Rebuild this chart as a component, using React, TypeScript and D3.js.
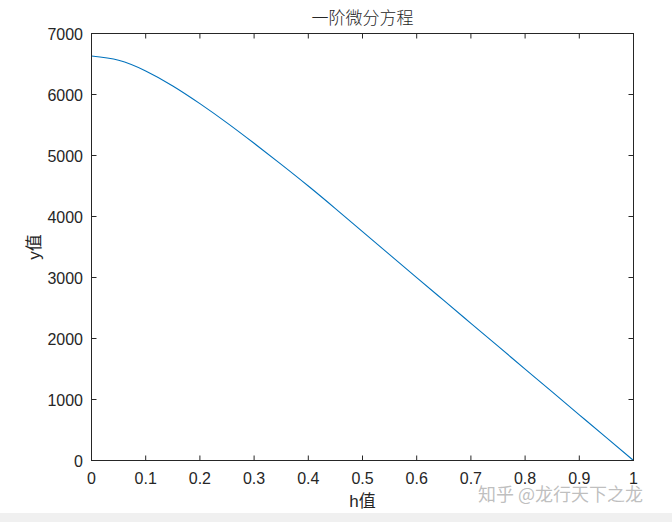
import React from "react";
import * as d3 from "d3";

const hValues = [0, 0.05, 0.1, 0.15, 0.2, 0.25, 0.3, 0.35, 0.4, 0.45, 0.5, 0.55, 0.6, 0.65, 0.7, 0.75, 0.8, 0.85, 0.9, 0.95, 1.0];
const yValues = [6630, 6560, 6385, 6140, 5850, 5535, 5200, 4855, 4500, 4130, 3752, 3375, 2999, 2624, 2249, 1874, 1499, 1124, 749, 374, 0];
const xTicks = [0, 0.1, 0.2, 0.3, 0.4, 0.5, 0.6, 0.7, 0.8, 0.9, 1];
const yTicks = [0, 1000, 2000, 3000, 4000, 5000, 6000, 7000];
const titleText = "一阶微分方程";
const xLabelText = "h值";
const yLabelText = "y值";
const watermarkText = "知乎 @龙行天下之龙";

export default function App() {
  const W = 672, H = 522;
  const left = 91.5, right = 633.5, top = 33.5, bottom = 460.5;
  const x = d3.scaleLinear().domain([0, 1]).range([left, right]);
  const y = d3.scaleLinear().domain([0, 7000]).range([bottom, top]);
  const pts: [number, number][] = hValues.map((h, i) => [h, yValues[i]]);
  const line = d3.line<[number, number]>().x(d => x(d[0])).y(d => y(d[1])).curve(d3.curveNatural);
  const axisColor = "#262626";
  const font = "'Liberation Sans', Arial, sans-serif";
  const tl = 5;
  return (
    <svg width={W} height={H} style={{ position: "absolute", left: 0, top: 0, background: "#fff" }}>
      <rect x={0} y={0} width={W} height={H} fill="#fff" />
      <rect x={0} y={513} width={W} height={9} fill="#f0f0f0" />
      <path d={line(pts) || ""} fill="none" stroke="#0072BD" strokeWidth={1.1} />
      <rect x={left} y={top} width={right - left} height={bottom - top} fill="none" stroke={axisColor} strokeWidth={1} />
      {xTicks.map(t => (
        <g key={"x" + t}>
          <line x1={x(t)} x2={x(t)} y1={bottom} y2={bottom - tl} stroke={axisColor} />
          <line x1={x(t)} x2={x(t)} y1={top} y2={top + tl} stroke={axisColor} />
          <text x={x(t)} y={484} textAnchor="middle" fontFamily={font} fontSize={16} fill={axisColor}>{String(t)}</text>
        </g>
      ))}
      {yTicks.map(t => (
        <g key={"y" + t}>
          <line x1={left} x2={left + tl} y1={y(t)} y2={y(t)} stroke={axisColor} />
          <line x1={right} x2={right - tl} y1={y(t)} y2={y(t)} stroke={axisColor} />
          <text x={83} y={y(t) + 6} textAnchor="end" fontFamily={font} fontSize={16} fill={axisColor}>{String(t)}</text>
        </g>
      ))}
      <text x={(left + right) / 2} y={24} textAnchor="middle" fontFamily="'Noto Sans CJK SC', sans-serif" fontSize={17} fontWeight={300} fill={axisColor}>{titleText}</text>
      <text x={(left + right) / 2} y={507} textAnchor="middle" fontFamily="'Liberation Sans', 'Noto Sans CJK SC', sans-serif" fontSize={17} fill={axisColor}>{xLabelText}</text>
      <text transform={`translate(40,${(top + bottom) / 2}) rotate(-90)`} textAnchor="middle" fontFamily="'Liberation Sans', 'Noto Sans CJK SC', sans-serif" fontSize={17} fill={axisColor}>{yLabelText}</text>
      <text x={478} y={501} fontFamily="'Noto Sans CJK SC', sans-serif" fontSize={18} fill="rgba(170,170,170,0.75)" stroke="#fff" strokeWidth={0.6} paintOrder="stroke">{watermarkText}</text>
    </svg>
  );
}
